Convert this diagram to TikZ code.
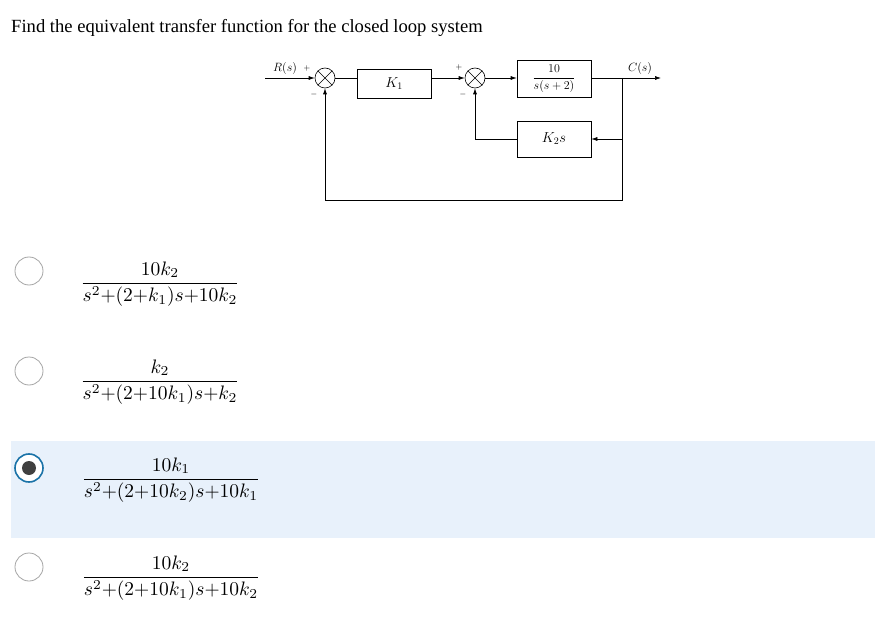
\documentclass[tikz,border=0pt]{standalone}
\usepackage{amsmath}
\usepackage{fontspec}
\newfontfamily\timesf{Liberation Serif}
\usetikzlibrary{arrows.meta}
\definecolor{band}{HTML}{E8F1FB}
\definecolor{radblue}{HTML}{1A73A8}
\begin{document}
\begin{tikzpicture}[x=1pt,y=-1pt,
  blk/.style={draw,line width=0.6pt,minimum width=74pt,inner sep=0pt,font=\timesf\fontsize{10}{11}\selectfont},
  sumj/.style={draw,circle,minimum size=20pt,inner sep=0pt,line width=0.6pt},
  lab/.style={font=\timesf\fontsize{10}{11}\selectfont,inner sep=0pt},
  sg/.style={font=\fontsize{8}{9}\selectfont,inner sep=0pt},
  ar/.style={-{Latex[length=6pt,width=4pt]},line width=0.6pt},
  ln/.style={line width=0.6pt},
  rad/.style={draw=gray!70,fill=white,circle,minimum size=28pt,inner sep=0pt,line width=0.8pt},
  frac/.style={inner sep=0pt,scale=1.95}]
\fill[white] (0,0) rectangle (875,636);
\fill[band] (11,441) rectangle (875,538);
\node[anchor=west,font=\timesf\fontsize{18.6}{20}\selectfont,inner sep=0pt] (title) at (11,28) {Find the equivalent transfer function for the closed loop system};
% block diagram
\coordinate (rin) at (265,78);
\node[sumj] (s1) at (325,78) {};
\draw[ln] (s1.45)--(s1.225) (s1.135)--(s1.315);
\node[blk,minimum height=29pt] (k1) at (394,83.5) {\Large$K_1$};
\node[sumj] (s2) at (475,78) {};
\draw[ln] (s2.45)--(s2.225) (s2.135)--(s2.315);
\node[blk,minimum height=37pt] (g) at (554,78.5) {\large$\dfrac{10}{s(s+2)}$};
\node[blk,minimum height=36pt] (k2) at (554,139) {\Large$K_2s$};
\coordinate (br) at (622,78);
\coordinate (out) at (661,78);
\coordinate (bl) at (622,200);
\coordinate (bs) at (325,200);
\coordinate (fb2) at (475,139);
\coordinate (k2r) at (622,139);
\draw[ar] (rin)--(s1.west);
\draw[ln] (s1.east)--(s1.east-|k1.west);
\draw[ar] (s1.east-|k1.east)--(s2.west);
\draw[ar] (s2.east)--(s2.east-|g.west);
\draw[ar] (s2.east-|g.east)--(out);
\draw[ar] (k2r)--(k2.east);
\draw[ln] (br)--(bl)--(bs);
\draw[ar] (bs)--(s1.south);
\draw[ar] (k2.west)--(fb2)--(s2.south);
\node[lab] (rl) at (285,69) {\large$R(s)$};
\node[lab] (cl) at (640,69) {\large$C(s)$};
\node[sg] at (307,69) {+};
\node[sg] at (314,95) {$-$};
\node[sg] at (459,68) {+};
\node[sg] at (463,95) {$-$};
% options
\node[rad] (r1) at (29,271) {};
\node[rad] (r2) at (29,371) {};
\node[rad,draw=radblue,line width=1.6pt] (r3) at (29,468) {};
\fill[black!75] (r3) circle (7pt);
\node[rad] (r4) at (29,567) {};
\node[frac] (f1) at (160,284) {$\dfrac{10k_2}{s^2{+}(2{+}k_1)s{+}10k_2}$};
\node[frac] (f2) at (160,382) {$\dfrac{k_2}{s^2{+}(2{+}10k_1)s{+}k_2}$};
\node[frac] (f3) at (171,480) {$\dfrac{10k_1}{s^2{+}(2{+}10k_2)s{+}10k_1}$};
\node[frac] (f4) at (171,578) {$\dfrac{10k_2}{s^2{+}(2{+}10k_1)s{+}10k_2}$};
\end{tikzpicture}
\end{document}
